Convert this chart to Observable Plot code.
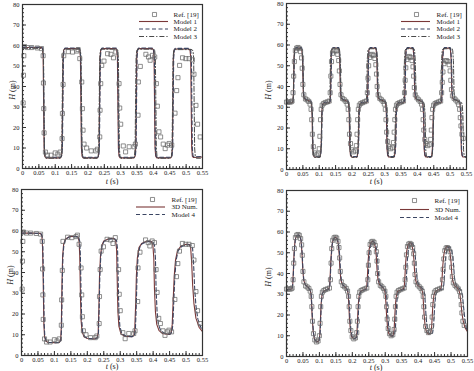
<!DOCTYPE html>
<html><head><meta charset="utf-8">
<script src="https://cdn.jsdelivr.net/npm/d3@7"></script>
<script src="https://cdn.jsdelivr.net/npm/@observablehq/plot@0.6"></script>
<style>
body{margin:0;background:#fff;}
#wrap{position:relative;width:474px;height:371px;overflow:hidden;background:#fff;}
#wrap svg{position:absolute;background:#fff;}
#wrap text{-webkit-font-smoothing:antialiased;}
</style></head><body><div id="wrap"></div>
<script>
// ---------- ticks ----------
const tickT = [0,0.05,0.1,0.15,0.2,0.25,0.3,0.35,0.4,0.45,0.5,0.55];
const tickTLabels = ["0","0.05","0.1","0.15","0.2","0.25","0.3","0.35","0.4","0.45","0.5","0.55"];
const tickH = [0,10,20,30,40,50,60,70,80];
const tickHLabels = ["0","10","20","30","40","50","60","70","80"];
const minorT = d3.range(0,56).map(i=>i/100);
const minorH = d3.range(0,41).map(i=>i*2);
const legendA = ["Ref. [19]","Model 1","Model 2","Model 3"];
const legendB = ["Ref. [19]","3D Num.","Model 4"];

// ---------- Ref. [19], case A (panels 1 and 3) ----------
const refA = [[0.002,32],[0.003,45.5],[0.004,55],[0.006,59.5],[0.015,59],[0.028,59],[0.045,58.8],[0.058,58.5],[0.063,55],[0.064,41.7],[0.065,29.2],[0.066,17.4],[0.07,8],[0.076,6.5],[0.087,6.5],[0.1,7.6],[0.108,7],[0.115,8],[0.121,14.6],[0.122,26.8],[0.124,41],[0.126,55],[0.14,57],[0.153,56.8],[0.166,57.3],[0.17,58],[0.175,53.6],[0.181,42.2],[0.183,29.2],[0.185,18.7],[0.188,11.9],[0.196,10],[0.21,8.6],[0.224,8.6],[0.229,9.4],[0.236,15.4],[0.237,28.4],[0.239,41.4],[0.242,50.3],[0.249,52.4],[0.26,56],[0.27,55.7],[0.278,54],[0.285,56.8],[0.295,41.4],[0.297,29.5],[0.3,21.6],[0.308,11],[0.315,8.1],[0.326,10.6],[0.341,10.6],[0.345,11.9],[0.353,26],[0.354,42.2],[0.36,49.8],[0.377,55.7],[0.385,54.4],[0.39,52.8],[0.397,55.2],[0.404,54.4],[0.409,41.4],[0.412,30.4],[0.417,17.9],[0.422,15.4],[0.43,11.9],[0.436,9.7],[0.443,11.4],[0.448,12.2],[0.456,11.4],[0.466,27],[0.471,38],[0.475,44.3],[0.48,50.3],[0.489,54],[0.499,53.6],[0.509,53.6],[0.519,53],[0.524,46],[0.53,30.8],[0.535,21.6],[0.543,15.4]];

// ---------- Ref. [19], case B (panels 2 and 4) ----------
const refB = [[0,32.5],[0.005,32.5],[0.01,32.5],[0.014,32.6],[0.017,33],[0.02,37],[0.022,45],[0.024,52],[0.027,57.3],[0.031,58.5],[0.035,58.8],[0.039,58.4],[0.043,56.8],[0.046,53.8],[0.048,48.8],[0.05,41],[0.053,36],[0.058,34],[0.063,33.5],[0.068,32.8],[0.072,31.5],[0.075,29],[0.077,24],[0.079,17],[0.082,11],[0.086,8],[0.091,7],[0.096,7.5],[0.1,10],[0.102,16],[0.104,24],[0.106,29],[0.109,31],
[0.1135,31.8],[0.1185,32.3],[0.1245,32.6],[0.1305,33],[0.1335,37],[0.1355,45],[0.1375,52],[0.1405,56],[0.1445,57.2],[0.1485,57.5],[0.1525,57.1],[0.1565,55.5],[0.1595,52.5],[0.1615,47.5],[0.1635,41],[0.1665,36],[0.1715,34.2],[0.1765,33.6],[0.1815,32.8],[0.1855,31.5],[0.1885,29],[0.1905,24],[0.1925,17],[0.1955,12.5],[0.1995,9.5],[0.2045,8.5],[0.2095,9],[0.2135,11.5],[0.2155,17],[0.2175,24],[0.2195,29],[0.2225,31],
[0.227,31.8],[0.232,32.2],[0.238,32.6],[0.244,33],[0.247,37],[0.249,44],[0.251,50],[0.254,54],[0.258,55.2],[0.262,55.5],[0.266,55],[0.27,53.5],[0.273,50.5],[0.275,46],[0.277,40],[0.28,36],[0.285,34.3],[0.29,33.6],[0.295,32.8],[0.299,31.5],[0.302,29],[0.304,24],[0.306,18],[0.309,13.5],[0.313,11],[0.318,10],[0.323,10.5],[0.327,13],[0.329,18],[0.331,24],[0.333,29],[0.336,31],
[0.3405,31.8],[0.3455,32.2],[0.3515,32.6],[0.3575,33],[0.3605,37],[0.3625,43],[0.3645,49],[0.3675,53],[0.3715,54.2],[0.3755,54.5],[0.3795,54],[0.3835,52.5],[0.3865,49.5],[0.3885,45],[0.3905,39.5],[0.3935,36],[0.3985,34.5],[0.4035,33.6],[0.4085,32.8],[0.4125,31.5],[0.4155,29],[0.4175,24],[0.4195,19],[0.4225,14.5],[0.4265,12.5],[0.4315,11.5],[0.4365,12],[0.4405,14.5],[0.4425,19],[0.4445,25],[0.4465,29],[0.4495,31],
[0.454,31.8],[0.459,32.2],[0.465,32.6],[0.471,33],[0.474,37],[0.476,42],[0.478,47],[0.481,51],[0.485,52.3],[0.489,52.5],[0.493,52],[0.497,50.5],[0.5,47.5],[0.502,43],[0.504,38.5],[0.507,35.5],[0.512,34.3],[0.517,33.5],[0.522,32.6],[0.526,31.3],[0.529,29],[0.531,25],[0.533,21],[0.536,17],[0.54,15]];

// ---------- Panel 1: Models 1-3, case A ----------
const p1Model1 = [[0,59],[0.058,59],[0.061,58.3],[0.063,55],[0.066,10],[0.068,6],[0.071,5.2],[0.116,5.2],[0.119,6],[0.121,10],[0.124,54],[0.126,57.8],[0.129,58.5],[0.172,58.5],[0.175,57.8],[0.177,54],[0.18,10],[0.182,6],[0.185,5.2],[0.229,5.2],[0.232,6],[0.234,10],[0.237,54],[0.239,57.8],[0.242,58.5],[0.285,58.5],[0.288,57.8],[0.29,54],[0.293,10],[0.295,6],[0.298,5.2],[0.341,5.2],[0.344,6],[0.346,10],[0.349,54],[0.351,57.8],[0.354,58.5],[0.397,58.5],[0.4,57.8],[0.402,54],[0.405,10],[0.407,6],[0.41,5.2],[0.453,5.2],[0.456,6],[0.458,10],[0.461,54],[0.463,57.8],[0.466,58.3],[0.509,58.3],[0.512,57.6],[0.514,54],[0.517,10],[0.519,6],[0.522,5.4],[0.55,5.6]];
const p1Model2 = [[0,59.2],[0.059,59.2],[0.062,58.5],[0.064,55],[0.067,10],[0.069,6],[0.072,5.5],[0.117,5.5],[0.12,6.3],[0.122,10],[0.125,54],[0.127,58],[0.13,58.8],[0.173,58.8],[0.176,58],[0.178,54],[0.181,10],[0.183,6.2],[0.186,5.5],[0.23,5.5],[0.233,6.3],[0.235,10],[0.238,54],[0.24,58],[0.243,58.8],[0.286,58.8],[0.289,58],[0.291,54],[0.294,10],[0.296,6.2],[0.299,5.5],[0.342,5.5],[0.345,6.3],[0.347,10],[0.35,54],[0.352,58],[0.355,58.8],[0.398,58.8],[0.401,58],[0.403,54],[0.406,10],[0.408,6.2],[0.411,5.5],[0.454,5.5],[0.457,6.3],[0.459,10],[0.462,54],[0.464,58],[0.467,58.6],[0.511,58.6],[0.514,57.8],[0.516,54],[0.519,10],[0.521,6.2],[0.524,5.7],[0.55,5.9]];
const p1Model3 = [[0,58.6],[0.059,58.6],[0.062,58],[0.064,54],[0.067,10],[0.069,6],[0.072,5],[0.115,5],[0.118,5.8],[0.12,10],[0.123,54],[0.125,57.5],[0.128,58.2],[0.174,58.2],[0.177,57.5],[0.179,54],[0.182,10],[0.184,5.8],[0.187,5],[0.228,5],[0.231,5.8],[0.233,10],[0.236,54],[0.238,57.5],[0.241,58.2],[0.288,58.2],[0.291,57.5],[0.293,54],[0.296,10],[0.298,5.8],[0.301,5],[0.339,5],[0.342,5.8],[0.344,10],[0.347,54],[0.349,57.5],[0.352,58.2],[0.401,58.2],[0.404,57.5],[0.406,54],[0.409,10],[0.411,5.8],[0.414,5],[0.452,5],[0.455,5.8],[0.457,10],[0.46,54],[0.462,57.5],[0.465,58],[0.518,58],[0.521,57.3],[0.523,54],[0.526,10],[0.528,5.8],[0.531,5],[0.55,5]];

// ---------- Panel 2: Models 1-3, case B ----------
const p2Model1 = [[0,32],[0.019,32.3],[0.021,36],[0.023,54],[0.025,57.8],[0.028,58.5],[0.045,58.5],[0.047,57.5],[0.049,53],[0.051,38],[0.053,34.5],[0.057,33.8],[0.074,32.8],[0.076,31.5],[0.078,27],[0.08,10],[0.082,6.8],[0.085,6],[0.102,6],[0.104,7.5],[0.106,12],[0.108,28],[0.11,31.2],[0.113,32],
[0.1325,32.3],[0.1345,36],[0.1365,54],[0.1385,57.8],[0.1415,58.5],[0.1585,58.5],[0.1605,57.5],[0.1625,53],[0.1645,38],[0.1665,34.5],[0.1705,33.8],[0.1875,32.8],[0.1895,31.5],[0.1915,27],[0.1935,10],[0.1955,6.8],[0.1985,6],[0.2155,6],[0.2175,7.5],[0.2195,12],[0.2215,28],[0.2235,31.2],[0.2265,32],
[0.246,32.3],[0.248,36],[0.25,54],[0.252,57.8],[0.255,58.5],[0.272,58.5],[0.274,57.5],[0.276,53],[0.278,38],[0.28,34.5],[0.284,33.8],[0.301,32.8],[0.303,31.5],[0.305,27],[0.307,10],[0.309,6.8],[0.312,6],[0.329,6],[0.331,7.5],[0.333,12],[0.335,28],[0.337,31.2],[0.34,32],
[0.3595,32.3],[0.3615,36],[0.3635,54],[0.3655,57.8],[0.3685,58.5],[0.3855,58.5],[0.3875,57.5],[0.3895,53],[0.3915,38],[0.3935,34.5],[0.3975,33.8],[0.4145,32.8],[0.4165,31.5],[0.4185,27],[0.4205,10],[0.4225,6.8],[0.4255,6],[0.4425,6],[0.4445,7.5],[0.4465,12],[0.4485,28],[0.4505,31.2],[0.4535,32],
[0.473,32.3],[0.475,36],[0.477,54],[0.479,57.8],[0.482,58.5],[0.499,58.5],[0.501,57.5],[0.503,53],[0.505,38],[0.507,34.5],[0.511,33.8],[0.528,32.8],[0.53,31.5],[0.532,27],[0.534,10],[0.536,6.8],[0.539,6],[0.55,6]];
const p2Model2 = [[0,32.5],[0.02,32.8],[0.022,36.5],[0.024,54.5],[0.026,58],[0.029,58.8],[0.046,58.8],[0.048,57.8],[0.05,53],[0.052,38],[0.054,34.8],[0.058,34],[0.075,33],[0.077,31.5],[0.079,27],[0.081,10],[0.083,7],[0.086,6.3],[0.103,6.3],[0.105,7.8],[0.107,12],[0.109,28],[0.111,31.5],[0.114,32.3],
[0.1335,32.6],[0.1355,36.5],[0.1375,54.5],[0.1395,58],[0.1425,58.8],[0.1595,58.8],[0.1615,57.8],[0.1635,53],[0.1655,38],[0.1675,34.8],[0.1715,34],[0.1885,33],[0.1905,31.5],[0.1925,27],[0.1945,10],[0.1965,7],[0.1995,6.3],[0.2165,6.3],[0.2185,7.8],[0.2205,12],[0.2225,28],[0.2245,31.5],[0.2275,32.3],
[0.247,32.6],[0.249,36.5],[0.251,54.5],[0.253,58],[0.256,58.8],[0.273,58.8],[0.275,57.8],[0.277,53],[0.279,38],[0.281,34.8],[0.285,34],[0.302,33],[0.304,31.5],[0.306,27],[0.308,10],[0.31,7],[0.313,6.3],[0.33,6.3],[0.332,7.8],[0.334,12],[0.336,28],[0.338,31.5],[0.341,32.3],
[0.3605,32.6],[0.3625,36.5],[0.3645,54.5],[0.3665,58],[0.3695,58.8],[0.3865,58.8],[0.3885,57.8],[0.3905,53],[0.3925,38],[0.3945,34.8],[0.3985,34],[0.4155,33],[0.4175,31.5],[0.4195,27],[0.4215,10],[0.4235,7],[0.4265,6.3],[0.4435,6.3],[0.4455,7.8],[0.4475,12],[0.4495,28],[0.4515,31.5],[0.4545,32.3],
[0.474,32.6],[0.476,36.5],[0.478,54.5],[0.48,58],[0.483,58.8],[0.5,58.8],[0.502,57.8],[0.504,53],[0.506,38],[0.508,34.8],[0.512,34],[0.529,33],[0.531,31.5],[0.533,27],[0.535,10],[0.537,7],[0.54,6.3],[0.55,6.3]];
const p2Model3 = [[0,31.8],[0.019,32],[0.021,35.5],[0.023,53.5],[0.025,57.5],[0.028,58.2],[0.046,58.2],[0.048,57.2],[0.05,52.5],[0.052,37.5],[0.054,34],[0.058,33.3],[0.075,32.3],[0.077,31],[0.079,26.5],[0.081,9.5],[0.083,6.5],[0.086,5.8],[0.102,5.8],[0.104,7.2],[0.106,11.5],[0.108,27.5],[0.11,30.8],[0.113,31.6],
[0.1305,31.8],[0.1325,35.5],[0.1345,53.5],[0.1365,57.5],[0.1395,58.2],[0.1605,58.2],[0.1625,57.2],[0.1645,52.5],[0.1665,37.5],[0.1685,34],[0.1725,33.3],[0.1895,32.3],[0.1915,31],[0.1935,26.5],[0.1955,9.5],[0.1975,6.5],[0.2005,5.8],[0.2145,5.8],[0.2165,7.2],[0.2185,11.5],[0.2205,27.5],[0.2225,30.8],[0.2255,31.6],
[0.243,31.8],[0.245,35.5],[0.247,53.5],[0.249,57.5],[0.252,58.2],[0.274,58.2],[0.276,57.2],[0.278,52.5],[0.28,37.5],[0.282,34],[0.286,33.3],[0.304,32.3],[0.306,31],[0.308,26.5],[0.31,9.5],[0.312,6.5],[0.315,5.8],[0.327,5.8],[0.329,7.2],[0.331,11.5],[0.333,27.5],[0.335,30.8],[0.338,31.6],
[0.3565,31.8],[0.3585,35.5],[0.3605,53.5],[0.3625,57.5],[0.3655,58.2],[0.3895,58.2],[0.3915,57.2],[0.3935,52.5],[0.3955,37.5],[0.3975,34],[0.4015,33.3],[0.4195,32.3],[0.4215,31],[0.4235,26.5],[0.4255,9.5],[0.4275,6.5],[0.4305,5.8],[0.4435,5.8],[0.4455,7.2],[0.4475,11.5],[0.4495,27.5],[0.4515,30.8],[0.4545,31.6],
[0.47,31.8],[0.472,35.5],[0.474,53.5],[0.476,57.5],[0.479,58.2],[0.506,58.2],[0.508,57.2],[0.51,52.5],[0.512,37.5],[0.514,34],[0.518,33.3],[0.535,32.3],[0.537,31],[0.539,26.5],[0.541,9.5],[0.543,6.5],[0.546,5.8],[0.55,5.8]];

// ---------- Panel 3: 3D Num. and Model 4, case A ----------
const p3Num3D = [[0,59],[0.03,59],[0.058,58.8],[0.062,57.5],[0.064,52],[0.066,35],[0.068,15],[0.07,9],[0.074,7],[0.08,6.3],[0.1,6.2],[0.115,6.3],[0.119,7.5],[0.121,14],[0.123,35],[0.125,48],[0.128,53.5],[0.133,56],[0.145,57.3],[0.165,57.5],[0.172,57],[0.175,55],[0.177,48],[0.179,30],[0.181,17],[0.184,11.5],[0.19,9],[0.2,8.2],[0.222,8],[0.23,8.5],[0.233,11],[0.235,22],[0.237,38],[0.24,48],[0.244,53],[0.25,55.2],[0.265,56.3],[0.28,56.5],[0.286,55.5],[0.289,51],[0.291,35],[0.293,21],[0.296,14],[0.302,10.5],[0.315,9.2],[0.335,9],[0.341,9.5],[0.344,12],[0.347,25],[0.349,38],[0.352,47],[0.357,52],[0.365,54],[0.38,55],[0.394,55],[0.399,53.5],[0.402,47],[0.404,32],[0.407,21],[0.411,15],[0.418,12],[0.43,10.5],[0.45,10.2],[0.455,11],[0.458,15],[0.461,27],[0.464,38],[0.468,46],[0.474,50.5],[0.485,52.8],[0.5,53.6],[0.51,53.5],[0.514,52],[0.517,45],[0.52,34],[0.524,25],[0.53,18],[0.54,13.5],[0.55,11.5]];
const p3Model4 = [[0,59],[0.03,59],[0.059,58.8],[0.063,57.5],[0.065,52],[0.067,35],[0.069,15],[0.071,9],[0.075,7],[0.081,6.3],[0.1,6.2],[0.116,6.3],[0.12,7.5],[0.122,14],[0.124,35],[0.126,48],[0.129,53.5],[0.134,56],[0.146,57.2],[0.167,57.4],[0.174,57],[0.177,55],[0.179,48],[0.181,30],[0.183,17],[0.186,11.5],[0.192,9],[0.202,8.2],[0.224,8],[0.231,8.5],[0.234,11],[0.236,22],[0.238,38],[0.241,48],[0.245,53],[0.251,55],[0.266,56.1],[0.283,56.3],[0.289,55.3],[0.292,51],[0.294,35],[0.296,21],[0.299,14],[0.305,10.5],[0.318,9.3],[0.337,9.1],[0.343,9.6],[0.346,12],[0.349,25],[0.351,38],[0.354,47],[0.359,52],[0.367,54],[0.382,54.8],[0.399,54.8],[0.404,53.3],[0.407,47],[0.409,32],[0.412,21],[0.416,15],[0.423,12],[0.435,10.6],[0.452,10.3],[0.457,11.2],[0.46,15],[0.463,27],[0.466,38],[0.47,46],[0.476,50.5],[0.487,52.6],[0.503,53.4],[0.516,53.2],[0.52,51.5],[0.523,44],[0.526,33],[0.53,24],[0.536,17.5],[0.545,13.5],[0.55,12.5]];

// ---------- Panel 4: 3D Num. and Model 4, case B ----------
const p4Num3D = [[0,32.3],[0.016,32.5],[0.019,35],[0.021,42],[0.023,50],[0.026,56],[0.03,58.2],[0.036,58.6],[0.041,58],[0.044,56],[0.047,50],[0.049,43],[0.052,37],[0.057,34.5],[0.065,33.5],[0.071,32.3],[0.074,30.5],[0.076,26],[0.078,19],[0.081,12],[0.085,8.3],[0.092,7],[0.098,7.5],[0.101,10],[0.103,17],[0.105,25],[0.108,30],[0.112,31.5],
[0.128,32.5],[0.131,34],[0.133,40],[0.135,47],[0.138,53.5],[0.142,56.6],[0.148,57.5],[0.153,57],[0.157,54.5],[0.16,49.5],[0.162,43],[0.165,37],[0.17,34.5],[0.178,33.5],[0.184,32.3],[0.187,30.5],[0.189,26],[0.191,19],[0.194,13],[0.198,9.5],[0.205,8.5],[0.211,9],[0.214,11.5],[0.216,18],[0.218,25],[0.221,29.5],[0.225,31.5],
[0.241,32.5],[0.244,34],[0.246,39],[0.248,46],[0.251,51.5],[0.255,54.5],[0.261,55.6],[0.266,55],[0.27,52.5],[0.273,48],[0.275,42],[0.278,37],[0.283,34.5],[0.291,33.5],[0.297,32.3],[0.3,30.5],[0.302,26],[0.304,20],[0.307,14],[0.311,11],[0.318,9.7],[0.324,10.2],[0.327,13],[0.329,19],[0.331,25],[0.334,29.5],[0.338,31.5],
[0.355,32.5],[0.358,34],[0.36,39],[0.362,45],[0.365,50.5],[0.369,53.8],[0.375,55],[0.38,54.3],[0.384,51.5],[0.387,47],[0.389,41.5],[0.392,37],[0.397,34.5],[0.405,33.5],[0.411,32.3],[0.414,30.5],[0.416,26],[0.418,20.5],[0.421,15],[0.425,12],[0.432,10.7],[0.438,11.2],[0.441,14],[0.443,20],[0.445,25.5],[0.448,29.5],[0.452,31.5],
[0.468,32.5],[0.471,34],[0.473,38.5],[0.475,44],[0.478,49],[0.482,52],[0.488,53.2],[0.493,52.6],[0.497,50],[0.5,45.5],[0.502,40.5],[0.505,36.5],[0.51,34.3],[0.518,33.3],[0.524,32],[0.527,30],[0.53,26],[0.533,21],[0.537,17],[0.542,14],[0.55,12]];
const p4Model4 = [[0,32.3],[0.017,32.5],[0.02,36],[0.022,44],[0.024,51],[0.027,56.5],[0.031,58.3],[0.037,58.6],[0.042,57.8],[0.045,55.5],[0.048,49],[0.05,42],[0.053,36.5],[0.058,34.3],[0.066,33.3],[0.072,32],[0.075,30],[0.077,25],[0.079,18],[0.082,11.5],[0.086,8],[0.093,7],[0.099,7.6],[0.102,10.5],[0.104,18],[0.106,26],[0.109,30.2],[0.113,31.5],
[0.129,32.5],[0.132,34.5],[0.134,41],[0.136,48],[0.139,54],[0.143,56.8],[0.149,57.5],[0.155,56.6],[0.159,53.5],[0.162,48],[0.164,41.5],[0.167,36.5],[0.172,34.3],[0.18,33.3],[0.186,32],[0.189,30],[0.191,25],[0.193,18],[0.196,12.5],[0.2,9.3],[0.207,8.5],[0.213,9.2],[0.216,12],[0.218,19],[0.22,26],[0.223,30],[0.227,31.5],
[0.244,32.5],[0.247,34.5],[0.249,40],[0.251,47],[0.254,52],[0.258,54.7],[0.264,55.5],[0.27,54.5],[0.274,51.5],[0.277,46.5],[0.279,40.5],[0.282,36.2],[0.287,34.2],[0.295,33.2],[0.301,32],[0.304,30],[0.306,25],[0.308,19],[0.311,13.5],[0.315,10.7],[0.322,9.7],[0.328,10.4],[0.331,13.5],[0.333,20],[0.335,26],[0.338,30],[0.342,31.5],
[0.36,32.5],[0.363,34.5],[0.365,40],[0.367,46],[0.37,51],[0.374,54],[0.38,54.8],[0.386,53.8],[0.39,50.5],[0.393,45.5],[0.395,40],[0.398,36],[0.403,34.2],[0.411,33.2],[0.417,32],[0.42,30],[0.422,25],[0.424,19.5],[0.427,14.5],[0.431,11.7],[0.438,10.6],[0.444,11.4],[0.447,14.5],[0.449,21],[0.451,26],[0.454,30],[0.458,31.5],
[0.475,32.5],[0.478,34.5],[0.48,39.5],[0.482,45],[0.485,49.5],[0.489,52.3],[0.495,53],[0.501,51.8],[0.505,48.5],[0.508,43.5],[0.51,38.5],[0.513,35.5],[0.518,33.8],[0.526,32.8],[0.532,31.5],[0.535,29],[0.538,24],[0.542,18],[0.546,14],[0.55,12.5]];

// ---------- styles ----------
const FONT = "Liberation Serif, Times New Roman, serif";
const sSolid = {stroke:"#7a3838", strokeWidth:1.1, strokeDasharray:null};
const sDash = {stroke:"#3a4562", strokeWidth:1.1, strokeDasharray:"4,2.5"};
const sDashDot = {stroke:"#4a4a4a", strokeWidth:1, strokeDasharray:"5,2,1.2,2"};
const refStyle = {symbol:"square", r:2.3, stroke:"#6a6a6a", strokeWidth:0.75, fill:"none"};

const tLabelMap = new Map(tickT.map((d,i)=>[d,tickTLabels[i]]));
const hLabelMap = new Map(tickH.map((d,i)=>[d,tickHLabels[i]]));

function panel(o) {
  const W = 237, Hh = o.h;
  const sx = Plot.scale({x:{domain:[0,0.55], range:[o.ml, W - o.mr]}});
  const sy = Plot.scale({y:{domain:[0,80], range:[Hh - o.mb, o.mt]}});
  const marks = [];
  o.lines.forEach(s => marks.push(Plot.line(s.data, {x:d=>d[0], y:d=>d[1], ...s.style})));
  marks.push(Plot.dot(o.ref, {x:d=>d[0], y:d=>d[1], ...refStyle}));
  // legend
  const lg = o.legend;
  const rows = lg.names.map((n,i)=>({name:n, y:sy.invert(lg.rows[i]), xs:sx.invert(lg.sq), x1:sx.invert(lg.l1), x2:sx.invert(lg.l2), xt:sx.invert(lg.tx)}));
  marks.push(Plot.dot([rows[0]], {x:"xs", y:"y", ...refStyle}));
  o.lines.forEach((s,j) => {
    marks.push(Plot.ruleY([rows[j+1]], {y:"y", x1:"x1", x2:"x2", ...s.style}));
  });
  marks.push(Plot.text(rows, {x:"xt", y:"y", text:"name", textAnchor:"start", fontSize:7, fill:"#1a1a1a"}));
  // axes
  marks.push(Plot.axisX(tickT, {anchor:"bottom", tickSize:0, tickPadding:1.5, tickFormat:d=>tLabelMap.get(d), fontSize:6.5, label:null, fill:"#1a1a1a"}));
  marks.push(Plot.axisY(tickH, {anchor:"left", tickSize:0, tickPadding:3, tickFormat:d=>hLabelMap.get(d), fontSize:6.5, label:null, fill:"#1a1a1a"}));
  marks.push(Plot.axisX(tickT, {anchor:"bottom", tickSize:-4, fill:"none", label:null, stroke:"#333"}));
  marks.push(Plot.axisX(minorT, {anchor:"bottom", tickSize:-2, fill:"none", label:null, stroke:"#333"}));
  marks.push(Plot.axisY(tickH, {anchor:"left", tickSize:-4, fill:"none", label:null, stroke:"#333"}));
  marks.push(Plot.axisY(minorH, {anchor:"left", tickSize:-2, fill:"none", label:null, stroke:"#333"}));
  marks.push(Plot.frame({stroke:"#333", strokeWidth:1.2}));
  const svg = Plot.plot({
    width:W, height:Hh, marginLeft:o.ml, marginRight:o.mr, marginTop:o.mt, marginBottom:o.mb,
    x:{domain:[0,0.55], label:null}, y:{domain:[0,80], label:null},
    style:{fontFamily:FONT, fontSize:"7px", background:"#fff", overflow:"visible"},
    marks
  });
  const s = d3.select(svg);
  const t = s.append("text").attr("x", o.tl[0]).attr("y", o.tl[1]).attr("text-anchor","middle")
    .style("font-family", FONT).style("font-size","8px").attr("fill","#1a1a1a");
  t.append("tspan").style("font-style","italic").text("t");
  t.append("tspan").text(" (s)");
  const h = s.append("text").attr("transform", `translate(${o.hl[0]},${o.hl[1]}) rotate(-90)`).attr("text-anchor","middle")
    .attr("dy","0.35em").style("font-family", FONT).style("font-size","8px").attr("fill","#1a1a1a");
  h.append("tspan").style("font-style","italic").text("H");
  h.append("tspan").text(" (m)");
  svg.style.left = o.left + "px";
  svg.style.top = o.top + "px";
  document.getElementById("wrap").appendChild(svg);
}

panel({left:0, top:0, h:185, ml:22, mr:35, mt:4, mb:17, ref:refA,
  lines:[{data:p1Model1, style:sSolid},{data:p1Model2, style:sDash},{data:p1Model3, style:sDashDot}],
  legend:{names:legendA, rows:[14,21,28.5,36], sq:154, l1:139, l2:168, tx:173},
  tl:[112,184], hl:[12,90]});
panel({left:237, top:0, h:185, ml:49, mr:8, mt:3, mb:16, ref:refB,
  lines:[{data:p2Model1, style:sSolid},{data:p2Model2, style:sDash},{data:p2Model3, style:sDashDot}],
  legend:{names:legendA, rows:[14,21,28.5,36], sq:179, l1:164, l2:193, tx:199},
  tl:[139,184], hl:[31,90]});
panel({left:0, top:185, h:186, ml:21, mr:35, mt:4, mb:16, ref:refA,
  lines:[{data:p3Num3D, style:sSolid},{data:p3Model4, style:sDash}],
  legend:{names:legendB, rows:[14,21.5,29], sq:152, l1:136, l2:165, tx:171},
  tl:[112,184], hl:[10,90]});
panel({left:237, top:185, h:186, ml:49, mr:7, mt:5, mb:15, ref:refB,
  lines:[{data:p4Num3D, style:sSolid},{data:p4Model4, style:sDash}],
  legend:{names:legendB, rows:[15,24,32], sq:177, l1:163, l2:192, tx:197},
  tl:[139,185], hl:[31,92]});
</script></body></html>
